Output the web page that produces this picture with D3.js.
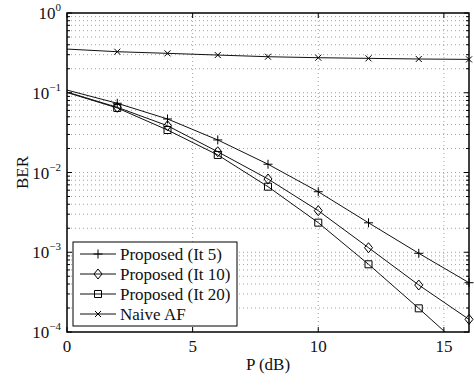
<!DOCTYPE html>
<html><head><meta charset="utf-8">
<script src="https://cdn.jsdelivr.net/npm/d3@7/dist/d3.min.js"></script>
<style>body{margin:0;background:#fff}svg text{font-family:"Liberation Serif","Times New Roman",serif;fill:#111}</style>
</head><body><svg id="c" width="474" height="391"></svg>
<script>
const P = [0, 2, 4, 6, 8, 10, 12, 14, 16];
const it5  = [0.108, 0.0738, 0.0469, 0.0256, 0.0127, 0.00574, 0.00234, 0.00097, 0.000415];
const it10 = [0.102, 0.0657, 0.0386, 0.0182, 0.00829, 0.00332, 0.00114, 0.000388, 0.000144];
const it20 = [0.1007, 0.0645, 0.0341, 0.0166, 0.00664, 0.00235, 0.000706, 0.000198, 0.0000537];
const naive = [0.353, 0.327, 0.312, 0.297, 0.283, 0.275, 0.27, 0.265, 0.262];
const seriesNames = ["Proposed (It 5)", "Proposed (It 10)", "Proposed (It 20)", "Naive AF"];
const xTicks = [0, 5, 10, 15];
const yExps = [0, -1, -2, -3, -4];

const L = 67, R = 469, T = 13, B = 332;
const svg = d3.select("#c");
const x = d3.scaleLinear().domain([0, 16]).range([L, R]);
const y = d3.scaleLog().domain([1e-4, 1]).range([B, T]);

// grid
const g = svg.append("g");
const minor = [];
for (let e = -4; e < 0; e++) for (let k = 1; k <= 9; k++) minor.push(k * Math.pow(10, e));
minor.push(1);
minor.forEach(v => {
  if (v <= 1e-4 || v >= 1) return;
  g.append("line").attr("x1", L).attr("x2", R).attr("y1", y(v)).attr("y2", y(v))
    .attr("stroke", "#888").attr("stroke-width", 0.8).attr("stroke-dasharray", "1,3");
});
xTicks.forEach(t => {
  if (t === 0) return;
  g.append("line").attr("x1", x(t)).attr("x2", x(t)).attr("y1", T).attr("y2", B)
    .attr("stroke", "#888").attr("stroke-width", 0.8).attr("stroke-dasharray", "1,3");
});

// ticks
const tk = svg.append("g").attr("stroke", "#000").attr("stroke-width", 1);
xTicks.forEach(t => {
  tk.append("line").attr("x1", x(t)).attr("x2", x(t)).attr("y1", B).attr("y2", B - 5);
  tk.append("line").attr("x1", x(t)).attr("x2", x(t)).attr("y1", T).attr("y2", T + 5);
});
minor.forEach(v => {
  const major = yExps.some(e => Math.abs(Math.log10(v) - e) < 1e-9);
  const len = major ? 5 : 3;
  tk.append("line").attr("x1", L).attr("x2", L + len).attr("y1", y(v)).attr("y2", y(v));
  tk.append("line").attr("x1", R).attr("x2", R - len).attr("y1", y(v)).attr("y2", y(v));
});

// curves
svg.append("clipPath").attr("id", "clp").append("rect")
  .attr("x", L).attr("y", T).attr("width", R - L).attr("height", B - T);
const line = d3.line().x(d => x(d[0])).y(d => y(d[1]));
const data = [it5, it10, it20, naive];
const shapes = ["plus", "diamond", "square", "cross"];
function marker(sel, shape, cx, cy) {
  const s = sel.append("path").attr("fill", "none").attr("stroke", "#000").attr("stroke-width", 1);
  let d;
  if (shape === "plus") d = `M${cx-4.5},${cy}H${cx+4.5}M${cx},${cy-4.5}V${cy+4.5}`;
  else if (shape === "diamond") d = `M${cx},${cy-5}L${cx+4},${cy}L${cx},${cy+5}L${cx-4},${cy}Z`;
  else if (shape === "square") d = `M${cx-3.5},${cy-3.5}h7v7h-7Z`;
  else d = `M${cx-3},${cy-3}L${cx+3},${cy+3}M${cx-3},${cy+3}L${cx+3},${cy-3}`;
  s.attr("d", d);
}
const plot = svg.append("g").attr("clip-path", "url(#clp)");
data.forEach((vals, i) => {
  const pts = P.map((p, j) => [p, vals[j]]);
  plot.append("path").attr("d", line(pts)).attr("fill", "none").attr("stroke", "#111").attr("stroke-width", 1);
  pts.forEach(([p, v]) => { if (p > 0 && v >= 1e-4) marker(svg, shapes[i], x(p), y(v)); });
});

// axes box
svg.append("rect").attr("x", L).attr("y", T).attr("width", R - L).attr("height", B - T)
  .attr("fill", "none").attr("stroke", "#000").attr("stroke-width", 1.5);

// tick labels
xTicks.forEach(t => {
  svg.append("text").attr("x", x(t)).attr("y", 352).attr("text-anchor", "middle")
    .attr("font-size", 17).text(t);
});
yExps.forEach(e => {
  const t = svg.append("text").attr("x", 61).attr("y", y(Math.pow(10, e)) + 6).attr("text-anchor", "end")
    .attr("font-size", 17);
  t.append("tspan").text("10");
  t.append("tspan").attr("dy", -8).attr("font-size", 11).text(e === 0 ? "0" : "\u2212" + (-e));
});
svg.append("text").attr("x", x(8)).attr("y", 370).attr("text-anchor", "middle").attr("font-size", 17).text("P (dB)");
svg.append("text").attr("transform", `translate(28,${(T + B) / 2}) rotate(-90)`).attr("text-anchor", "middle")
  .attr("font-size", 17).text("BER");

// legend
const lg = svg.append("g");
lg.append("rect").attr("x", 73).attr("y", 242).attr("width", 164).attr("height", 84)
  .attr("fill", "#fff").attr("stroke", "#000").attr("stroke-width", 1);
seriesNames.forEach((n, i) => {
  const yy = 254 + i * 20;
  lg.append("line").attr("x1", 80).attr("x2", 116).attr("y1", yy).attr("y2", yy).attr("stroke", "#111");
  marker(lg, shapes[i], 98, yy);
  lg.append("text").attr("x", 120).attr("y", yy + 6).attr("font-size", 17).text(n);
});
</script></body></html>
